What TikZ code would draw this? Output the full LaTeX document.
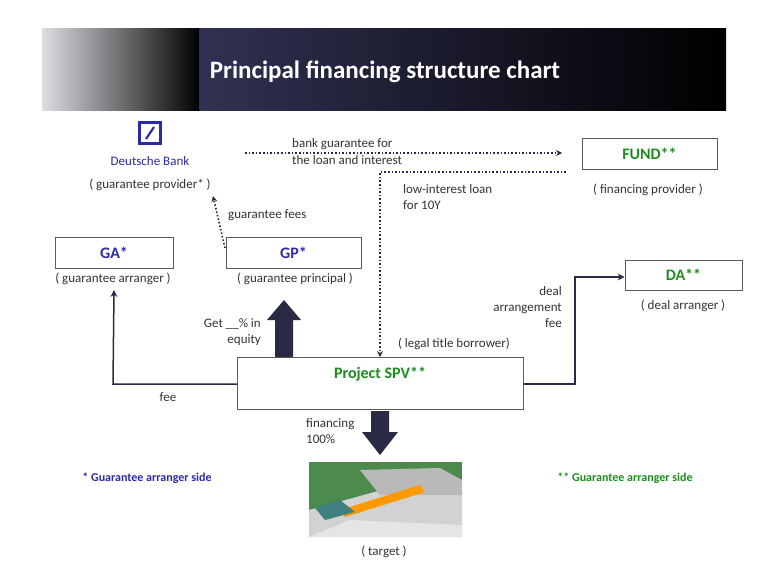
\documentclass[tikz,border=0pt]{standalone}
\usepackage{fontspec}
\setmainfont{Carlito}
\usetikzlibrary{arrows.meta,calc}
\definecolor{navy}{HTML}{2B2BA8}
\definecolor{grn}{HTML}{1E8C1E}
\definecolor{dark}{HTML}{2A2A45}
\definecolor{txt}{HTML}{333333}
\definecolor{ban}{HTML}{1A1A40}
\begin{document}
\begin{tikzpicture}[x=1pt,y=-1pt,
  box/.style={draw=txt!80,line width=0.7pt,minimum height=31pt,font=\fontsize{16}{18}\selectfont\bfseries},
  lbl/.style={text=txt,font=\fontsize{13}{14}\selectfont},
  note/.style={text=txt,font=\fontsize{13}{16}\selectfont,align=left,inner sep=0pt},
  dots/.style={line width=1.6pt,dotted,dark,-{Stealth[length=6pt,width=6pt]}},
  solid/.style={line width=1.5pt,dark,-{Stealth[length=7pt,width=7pt]}}]
\useasboundingbox (0,0) rectangle (768,576);
\fill[white] (0,0) rectangle (768,576);
% title
\shade[left color=white!85!ban,right color=black] (42,28) rectangle (200,110);
\shade[left color=ban!90!white,right color=black] (199.5,28) rectangle (726,110);
\node[text=white,font=\fontsize{25}{27}\selectfont\bfseries] (title) at (385,72) {Principal financing structure chart};
% Deutsche Bank
\node[draw=navy,line width=2.2pt,minimum size=21pt,inner sep=0pt] (logo) at (150,133) {};
\draw[navy,line width=2.2pt] ($(logo)+(-4,6)$) -- ($(logo)+(4,-6)$);
\node[text=navy,font=\fontsize{13}{14}\selectfont] (db) at (150,161) {Deutsche Bank};
\node[lbl] (dbl) at (150,185) {( guarantee provider* )};
% boxes
\node[box,text=navy,minimum width=118pt] (ga) at (114,252.5) {GA*};
\node[lbl] (gal) at (113,279) {( guarantee arranger )};
\node[box,text=navy,minimum width=135pt] (gp) at (293.5,252.5) {GP*};
\node[lbl] (gpl) at (295,279) {( guarantee principal )};
\node[box,text=grn,minimum width=135pt] (fund) at (649.5,154) {FUND**};
\node[lbl] (fundl) at (648,190) {( financing provider )};
\node[box,text=grn,minimum width=117pt,minimum height=30pt] (da) at (683.5,275) {DA**};
\node[lbl] (dal) at (683,306) {( deal arranger )};
\node[box,text=grn,minimum width=286pt,minimum height=52pt,anchor=north west,inner sep=0pt] (spv) at (237,357) {};
\node[text=grn,font=\fontsize{16}{18}\selectfont\bfseries] (spvt) at (380,374) {Project SPV**};
\node[lbl] (spvl) at (454,344) {( legal title borrower)};
% dotted
\coordinate (b1) at (245,153); \coordinate (b2) at (562,153);
\draw[dots] (b1) -- (b2);
\node[note,anchor=west] at (292,144) {bank guarantee for};
\node[note,anchor=west] at (292,160) {the loan and interest};
\coordinate (l1) at (566,172);
\draw[dots] (l1) -- (380,172) -- (spv.north -| 380,0);
\node[note,anchor=north west] at (403,184) {low-interest loan\\for 10Y};
\coordinate (g1) at (225,248); \coordinate (g2) at (213,196);
\draw[dots] (g1) -- (g2);
\node[note,anchor=west] at (228,215) {guarantee fees};
% fat arrows
\fill[dark] (275,357) -- (275,320) -- (267,320) -- (284,300) -- (301,320) -- (293,320) -- (293,357) -- cycle;
\node[note,align=right,anchor=east] at (261,332) {Get \_\_\% in\\equity};
\fill[dark] (371,411) -- (371,432) -- (362,432) -- (380,455) -- (398,432) -- (389,432) -- (389,411) -- cycle;
\node[note,anchor=north west] at (306,418) {financing\\100\%};
% solid lines
\draw[solid] (spv.west |- 0,384) -- (113,384) -- (ga.south |- 0,290);
\node[lbl] at (168,397) {fee};
\draw[solid] (spv.east |- 0,384) -- (575,384) -- (575,277) -- (da.west |- 0,277);
\node[note,align=right,anchor=north east] at (562,286) {deal\\arrangement\\fee};
% photo
\begin{scope}
\clip (309,462) rectangle (462,537);
\fill[green!35!black!70] (309,462) rectangle (462,537);
\fill[gray!35] (309,537) -- (309,510) -- (400,485) -- (462,490) -- (462,537) -- cycle;
\fill[gray!55] (360,470) -- (440,468) -- (462,480) -- (462,495) -- (380,495) -- cycle;
\fill[orange!80!yellow] (340,510) -- (420,485) -- (425,492) -- (345,517) -- cycle;
\fill[gray!20] (309,537) -- (350,520) -- (462,525) -- (462,537) -- cycle;
\fill[teal!50!gray] (315,508) -- (340,500) -- (355,512) -- (325,520) -- cycle;
\end{scope}
\node[minimum width=153pt,minimum height=75pt,anchor=north west,inner sep=0pt] (photo) at (309,462) {};
\node[lbl] (tgt) at (384,552) {( target )};
% footnotes
\node[text=navy,font=\fontsize{12}{13}\selectfont\bfseries] at (147,478) {* Guarantee arranger side};
\node[text=grn,font=\fontsize{12}{13}\selectfont\bfseries] at (625,478) {** Guarantee arranger side};
\end{tikzpicture}
\end{document}
